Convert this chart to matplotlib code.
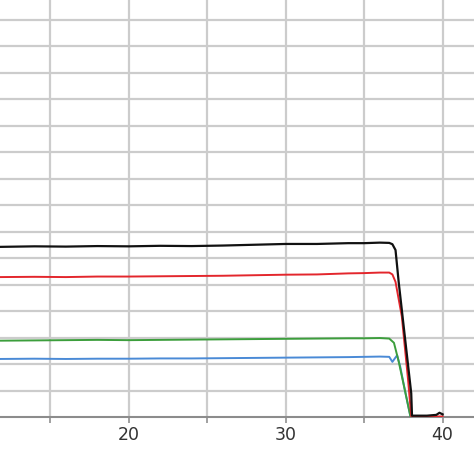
import numpy as np
from matplotlib import pyplot as plt

# curve points
x_black = [11.8, 14, 16, 18, 20, 22, 24, 26, 28, 30, 32, 34, 35, 36, 36.6, 36.8, 37.0, 37.2, 37.6, 38.0, 38.05, 38.2, 39, 39.6, 39.8, 40.0]
y_black = [6.42, 6.44, 6.43, 6.45, 6.44, 6.46, 6.45, 6.47, 6.50, 6.53, 6.53, 6.56, 6.56, 6.58, 6.57, 6.52, 6.30, 5.10, 3.00, 0.90, 0.05, 0.05, 0.05, 0.08, 0.16, 0.10]

x_red = [11.8, 14, 16, 18, 20, 22, 24, 26, 28, 30, 32, 34, 35, 36, 36.6, 36.8, 37.0, 37.4, 37.8, 38.0, 39, 40.0]
y_red = [5.28, 5.29, 5.28, 5.30, 5.30, 5.31, 5.32, 5.33, 5.35, 5.37, 5.38, 5.42, 5.43, 5.45, 5.45, 5.38, 5.10, 3.80, 1.40, 0.02, 0.02, 0.02]

x_green = [11.8, 14, 16, 18, 20, 22, 24, 26, 28, 30, 32, 34, 35, 36, 36.6, 36.9, 37.2, 37.6, 37.95]
y_green = [2.88, 2.89, 2.90, 2.91, 2.90, 2.91, 2.92, 2.93, 2.94, 2.95, 2.96, 2.97, 2.97, 2.98, 2.96, 2.80, 2.10, 1.00, 0.02]

x_blue = [11.8, 14, 16, 18, 20, 22, 24, 26, 28, 30, 32, 34, 35, 36, 36.6, 36.8, 37.1, 37.3, 37.6, 37.95]
y_blue = [2.19, 2.20, 2.19, 2.20, 2.20, 2.21, 2.21, 2.22, 2.23, 2.24, 2.25, 2.26, 2.27, 2.28, 2.27, 2.08, 2.33, 1.90, 1.00, 0.02]

x_ticks = [15, 20, 25, 30, 35, 40]
x_labels = ['', '20', '', '30', '', '40']

fig = plt.figure(figsize=(4.74, 4.74), dpi=100)
ax = fig.add_axes([0, 57 / 474, 1, 417 / 474])

ax.plot(x_blue, y_blue, color='#4a8ad6', lw=1.4, zorder=3)
ax.plot(x_green, y_green, color='#3c9e3c', lw=1.4, zorder=3)
ax.plot(x_red, y_red, color='#e3262c', lw=1.4, zorder=4)
ax.plot(x_black, y_black, color='#111111', lw=1.6, zorder=5)

ax.set_xlim(11.8, 42.0)
ax.set_ylim(0, 417 / 26.5)
ax.set_xticks(x_ticks)
ax.set_xticklabels(x_labels)
ax.set_yticks(np.arange(1, 16))
ax.tick_params(axis='y', left=False, labelleft=False)
ax.tick_params(axis='x', length=4, width=1.2, color='#909090', labelsize=12.5,
               labelcolor='#333333', pad=2.5)
ax.grid(True, color='#cccccc', lw=1.6)
ax.set_axisbelow(True)
for s in ['left', 'right', 'top']:
    ax.spines[s].set_visible(False)
ax.spines['bottom'].set_color('#8c8c8c')
ax.spines['bottom'].set_linewidth(1.5)

plt.savefig('out.png', dpi=100)
